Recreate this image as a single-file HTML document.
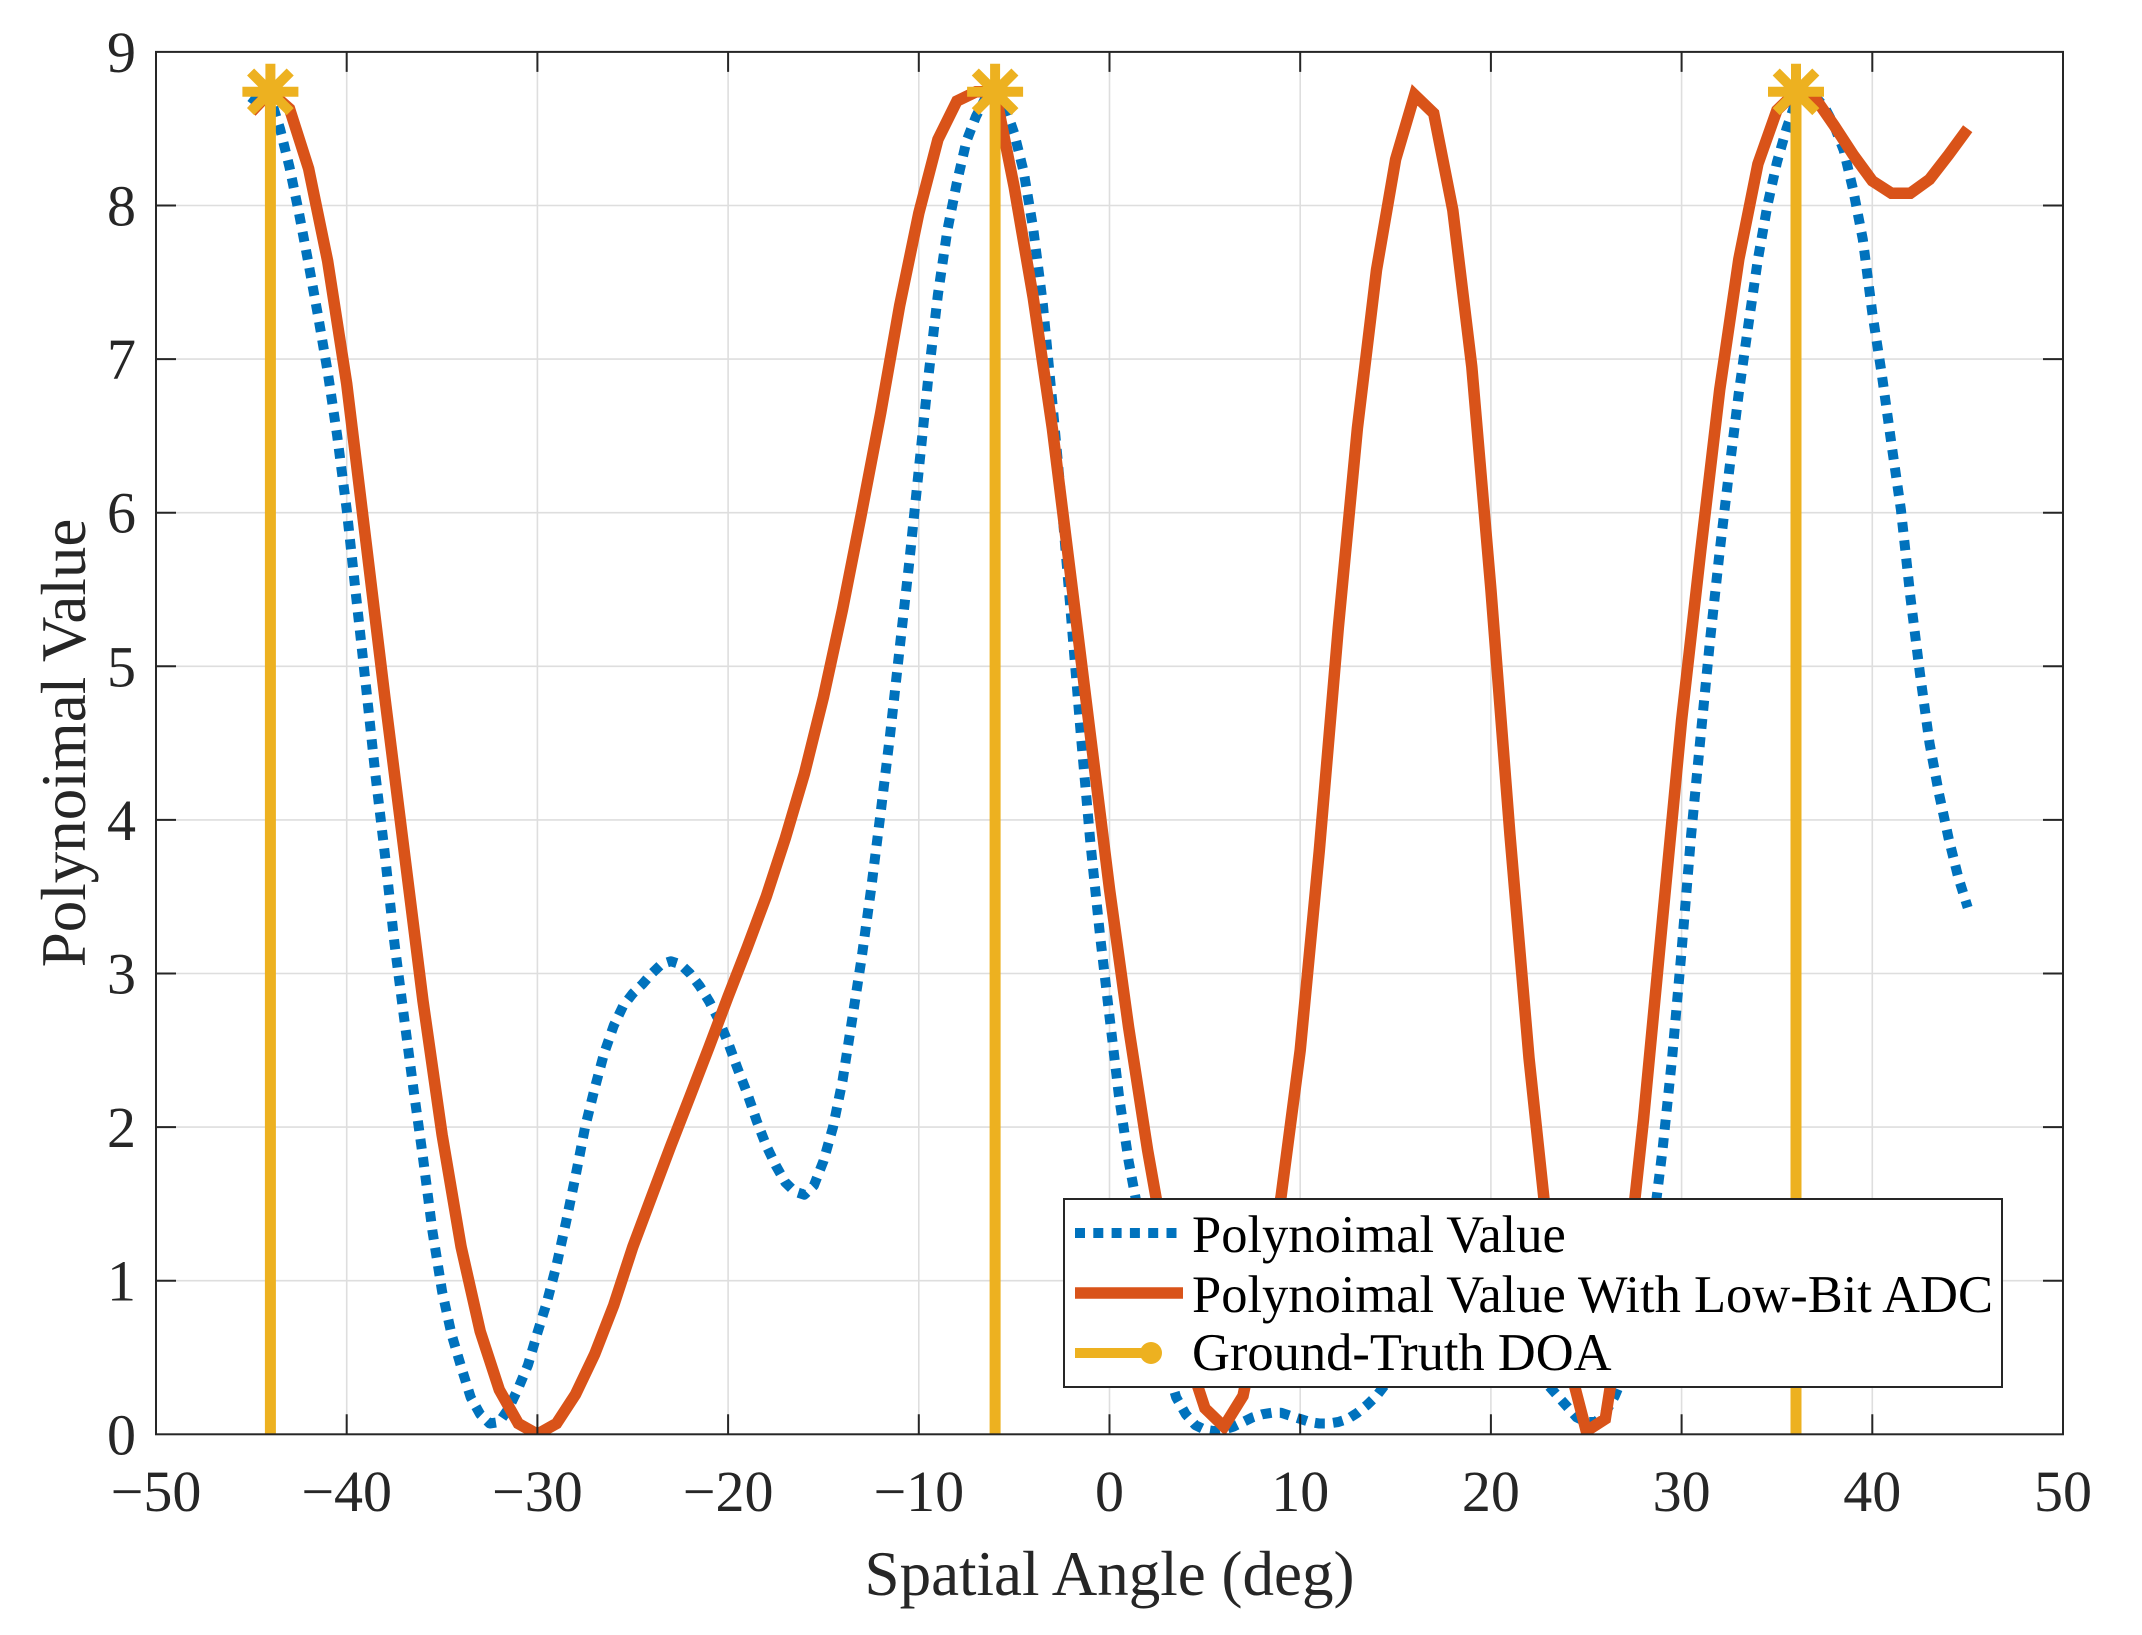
<!DOCTYPE html>
<html>
<head>
<meta charset="utf-8">
<style>
html,body{margin:0;padding:0;background:#fff;}
svg{display:block;}
text{font-family:"Liberation Serif","Times New Roman",serif;}
</style>
</head>
<body>
<svg width="2142" height="1635" viewBox="0 0 2142 1635" xmlns="http://www.w3.org/2000/svg">
<rect x="0" y="0" width="2142" height="1635" fill="#fff"/>
<defs>
<clipPath id="plot"><rect x="156" y="51.9" width="1907" height="1382.4"/></clipPath>
</defs>
<!-- grid -->
<g stroke="#dedede" stroke-width="1.6" fill="none">
<line x1="346.7" y1="51.9" x2="346.7" y2="1434.3"/>
<line x1="537.4" y1="51.9" x2="537.4" y2="1434.3"/>
<line x1="728.1" y1="51.9" x2="728.1" y2="1434.3"/>
<line x1="918.8" y1="51.9" x2="918.8" y2="1434.3"/>
<line x1="1109.5" y1="51.9" x2="1109.5" y2="1434.3"/>
<line x1="1300.2" y1="51.9" x2="1300.2" y2="1434.3"/>
<line x1="1490.9" y1="51.9" x2="1490.9" y2="1434.3"/>
<line x1="1681.6" y1="51.9" x2="1681.6" y2="1434.3"/>
<line x1="1872.3" y1="51.9" x2="1872.3" y2="1434.3"/>
<line x1="156" y1="1280.7" x2="2063" y2="1280.7"/>
<line x1="156" y1="1127.1" x2="2063" y2="1127.1"/>
<line x1="156" y1="973.5" x2="2063" y2="973.5"/>
<line x1="156" y1="819.9" x2="2063" y2="819.9"/>
<line x1="156" y1="666.3" x2="2063" y2="666.3"/>
<line x1="156" y1="512.7" x2="2063" y2="512.7"/>
<line x1="156" y1="359.1" x2="2063" y2="359.1"/>
<line x1="156" y1="205.5" x2="2063" y2="205.5"/>
</g>

<g clip-path="url(#plot)" fill="none">
<!-- blue dotted -->
<path stroke="#0072BD" stroke-width="10" stroke-dasharray="10 8.3" stroke-linejoin="round" d="M251.4,104.1 L260.9,91.8 L270.4,98.0 L280.0,128.7 L289.5,167.1 L299.0,213.2 L308.6,263.9 L318.1,316.1 L327.6,371.4 L337.2,435.9 L346.7,509.6 L356.2,597.2 L365.8,684.7 L375.3,773.8 L384.8,853.7 L394.4,942.8 L403.9,1016.5 L413.4,1088.7 L423.0,1157.8 L432.5,1231.5 L442.1,1291.5 L451.6,1334.5 L461.1,1366.7 L470.7,1397.4 L480.2,1414.3 L489.7,1423.5 L499.3,1422.0 L508.8,1408.2 L518.3,1388.2 L527.9,1365.2 L537.4,1332.9 L546.9,1302.2 L556.5,1265.3 L566.0,1222.3 L575.5,1176.3 L585.1,1127.1 L594.6,1088.7 L604.1,1053.4 L613.7,1025.7 L623.2,1005.8 L632.8,993.5 L642.3,984.3 L651.8,973.5 L661.4,964.3 L670.9,961.2 L680.4,964.3 L690.0,973.5 L699.5,985.8 L709.0,1001.1 L718.6,1019.6 L728.1,1042.6 L737.6,1068.7 L747.2,1093.3 L756.7,1121.0 L766.2,1145.5 L775.8,1165.5 L785.3,1182.4 L794.8,1191.6 L804.4,1194.7 L813.9,1185.5 L823.5,1160.9 L833.0,1127.1 L842.5,1081.0 L852.1,1019.6 L861.6,958.1 L871.1,889.0 L880.7,812.2 L890.2,733.9 L899.7,647.9 L909.3,561.9 L918.8,469.7 L928.3,377.5 L937.9,294.6 L947.4,230.1 L956.9,182.5 L966.5,141.0 L976.0,116.4 L985.5,98.0 L995.1,91.8 L1004.6,105.7 L1014.2,133.3 L1023.7,171.7 L1033.2,228.5 L1042.8,303.8 L1052.3,402.1 L1061.8,505.0 L1071.4,620.2 L1080.9,735.4 L1090.4,842.9 L1100.0,935.1 L1109.5,1016.5 L1119.0,1096.4 L1128.6,1160.9 L1138.1,1211.6 L1147.6,1265.3 L1157.2,1319.1 L1166.7,1365.2 L1176.2,1397.4 L1185.8,1414.3 L1195.3,1425.1 L1204.9,1429.7 L1214.4,1431.2 L1223.9,1429.7 L1233.5,1426.6 L1243.0,1422.0 L1252.5,1417.4 L1262.1,1414.3 L1271.6,1412.8 L1281.1,1412.8 L1290.7,1415.9 L1300.2,1418.9 L1309.7,1422.0 L1319.3,1423.5 L1328.8,1423.5 L1338.3,1422.0 L1347.9,1418.9 L1357.4,1412.8 L1366.9,1405.1 L1376.5,1395.9 L1386.0,1383.6 L1395.6,1369.8 L1414.6,1342.1 L1433.7,1319.1 L1452.8,1303.7 L1471.8,1299.1 L1490.9,1308.3 L1510.0,1329.9 L1529.0,1360.6 L1548.1,1385.1 L1557.6,1395.9 L1567.2,1406.7 L1576.7,1417.4 L1586.3,1422.0 L1595.8,1422.0 L1605.3,1412.8 L1614.9,1395.9 L1624.4,1372.9 L1633.9,1339.1 L1643.5,1288.4 L1653.0,1226.9 L1662.5,1150.1 L1672.1,1058.0 L1681.6,950.5 L1691.1,835.3 L1700.7,735.4 L1710.2,638.7 L1719.7,551.1 L1729.3,469.7 L1738.8,392.9 L1748.3,325.3 L1757.9,259.3 L1767.4,205.5 L1776.9,162.5 L1786.5,128.7 L1796.0,101.1 L1805.6,91.8 L1815.1,96.4 L1824.6,107.2 L1834.2,125.6 L1843.7,150.2 L1853.2,190.1 L1862.8,239.3 L1872.3,313.0 L1881.8,374.5 L1891.4,443.6 L1900.9,509.6 L1910.4,597.2 L1920.0,674.0 L1929.5,743.1 L1939.0,793.8 L1948.6,838.3 L1958.1,876.7 L1967.7,907.5"/>
<!-- orange solid -->
<path stroke="#D95319" stroke-width="11.5" stroke-linejoin="miter" stroke-miterlimit="6" d="M251.4,111.8 L270.4,91.8 L289.5,108.7 L308.6,168.6 L327.6,260.8 L346.7,383.7 L365.8,540.3 L384.8,697.0 L403.9,849.1 L423.0,1001.1 L442.1,1134.8 L461.1,1246.9 L480.2,1331.4 L499.3,1389.8 L518.3,1423.5 L537.4,1434.3 L556.5,1423.5 L575.5,1394.4 L594.6,1354.4 L613.7,1305.3 L632.8,1246.9 L651.8,1196.2 L670.9,1145.5 L690.0,1096.4 L709.0,1047.2 L728.1,996.5 L747.2,947.4 L766.2,896.7 L785.3,838.3 L804.4,773.8 L823.5,697.0 L842.5,609.5 L861.6,512.7 L880.7,412.9 L899.7,305.3 L918.8,213.2 L937.9,139.5 L956.9,101.1 L976.0,91.8 L995.1,91.8 L1014.2,187.1 L1033.2,297.7 L1052.3,428.2 L1071.4,581.8 L1090.4,735.4 L1109.5,889.0 L1128.6,1027.3 L1147.6,1150.1 L1166.7,1257.7 L1185.8,1349.8 L1204.9,1408.2 L1223.9,1426.6 L1243.0,1395.9 L1262.1,1303.7 L1281.1,1196.2 L1300.2,1050.3 L1319.3,850.6 L1338.3,627.9 L1357.4,428.2 L1376.5,270.0 L1395.6,159.4 L1414.6,94.9 L1433.7,113.3 L1452.8,210.1 L1471.8,366.8 L1490.9,589.5 L1510.0,835.3 L1529.0,1058.0 L1548.1,1237.7 L1567.2,1357.5 L1586.3,1431.2 L1605.3,1418.9 L1624.4,1296.1 L1643.5,1119.4 L1662.5,919.7 L1681.6,720.1 L1700.7,551.1 L1719.7,389.8 L1738.8,259.3 L1757.9,164.0 L1776.9,110.3 L1796.0,91.8 L1815.1,98.0 L1834.2,125.6 L1853.2,154.8 L1872.3,180.9 L1891.4,193.2 L1910.4,193.2 L1929.5,179.4 L1948.6,154.8 L1967.7,128.7"/>
<!-- stems -->
<g stroke="#EDB120" stroke-width="11">
<line x1="270.4" y1="1434.3" x2="270.4" y2="91.8"/>
<line x1="995.1" y1="1434.3" x2="995.1" y2="91.8"/>
<line x1="1796.0" y1="1434.3" x2="1796.0" y2="91.8"/>
</g>
<!-- asterisk markers -->
<g stroke="#EDB120" stroke-width="10">
<path d="M242.4,91.8 H298.4 M270.4,63.8 V119.8 M250.6,72.0 L290.2,111.6 M290.2,72.0 L250.6,111.6"/>
<path d="M967.1,91.8 H1023.1 M995.1,63.8 V119.8 M975.3,72.0 L1014.9,111.6 M1014.9,72.0 L975.3,111.6"/>
<path d="M1768.0,91.8 H1824.0 M1796.0,63.8 V119.8 M1776.2,72.0 L1815.8,111.6 M1815.8,72.0 L1776.2,111.6"/>
</g>
</g>

<!-- axes box -->
<rect x="156" y="51.9" width="1907" height="1382.4" fill="none" stroke="#262626" stroke-width="2"/>
<!-- ticks -->
<g stroke="#262626" stroke-width="2">
<path d="M346.7,1434.3 v-20 M537.4,1434.3 v-20 M728.1,1434.3 v-20 M918.8,1434.3 v-20 M1109.5,1434.3 v-20 M1300.2,1434.3 v-20 M1490.9,1434.3 v-20 M1681.6,1434.3 v-20 M1872.3,1434.3 v-20"/>
<path d="M346.7,51.9 v20 M537.4,51.9 v20 M728.1,51.9 v20 M918.8,51.9 v20 M1109.5,51.9 v20 M1300.2,51.9 v20 M1490.9,51.9 v20 M1681.6,51.9 v20 M1872.3,51.9 v20"/>
<path d="M156,1280.7 h20 M156,1127.1 h20 M156,973.5 h20 M156,819.9 h20 M156,666.3 h20 M156,512.7 h20 M156,359.1 h20 M156,205.5 h20"/>
<path d="M2063,1280.7 h-20 M2063,1127.1 h-20 M2063,973.5 h-20 M2063,819.9 h-20 M2063,666.3 h-20 M2063,512.7 h-20 M2063,359.1 h-20 M2063,205.5 h-20"/>
</g>

<!-- y tick labels -->
<g font-size="58" fill="#262626" text-anchor="end">
<text x="136" y="1454.3">0</text>
<text x="136" y="1300.7">1</text>
<text x="136" y="1147.1">2</text>
<text x="136" y="993.5">3</text>
<text x="136" y="839.9">4</text>
<text x="136" y="686.3">5</text>
<text x="136" y="532.7">6</text>
<text x="136" y="379.1">7</text>
<text x="136" y="225.5">8</text>
<text x="136" y="71.9">9</text>
</g>
<!-- x tick labels -->
<g font-size="58" fill="#262626" text-anchor="middle">
<text x="156" y="1511">−50</text>
<text x="346.7" y="1511">−40</text>
<text x="537.4" y="1511">−30</text>
<text x="728.1" y="1511">−20</text>
<text x="918.8" y="1511">−10</text>
<text x="1109.5" y="1511">0</text>
<text x="1300.2" y="1511">10</text>
<text x="1490.9" y="1511">20</text>
<text x="1681.6" y="1511">30</text>
<text x="1872.3" y="1511">40</text>
<text x="2063" y="1511">50</text>
</g>
<!-- axis labels -->
<text x="1109.5" y="1595" font-size="63" fill="#262626" text-anchor="middle">Spatial Angle (deg)</text>
<text transform="translate(85,743) rotate(-90)" x="0" y="0" font-size="63" fill="#262626" text-anchor="middle">Polynoimal Value</text>

<!-- legend -->
<rect x="1064" y="1199" width="938" height="188" fill="#fff" stroke="#262626" stroke-width="2"/>
<line x1="1075" y1="1233" x2="1180" y2="1233" stroke="#0072BD" stroke-width="10" stroke-dasharray="10 8.3"/>
<line x1="1075" y1="1293" x2="1183" y2="1293" stroke="#D95319" stroke-width="11.5"/>
<line x1="1075" y1="1353" x2="1150" y2="1353" stroke="#EDB120" stroke-width="10"/>
<circle cx="1151" cy="1353" r="11" fill="#EDB120"/>
<g font-size="52.5" fill="#000">
<text x="1192" y="1252">Polynoimal Value</text>
<text x="1192" y="1312">Polynoimal Value With Low-Bit ADC</text>
<text x="1192" y="1370">Ground-Truth DOA</text>
</g>
</svg>
</body>
</html>
